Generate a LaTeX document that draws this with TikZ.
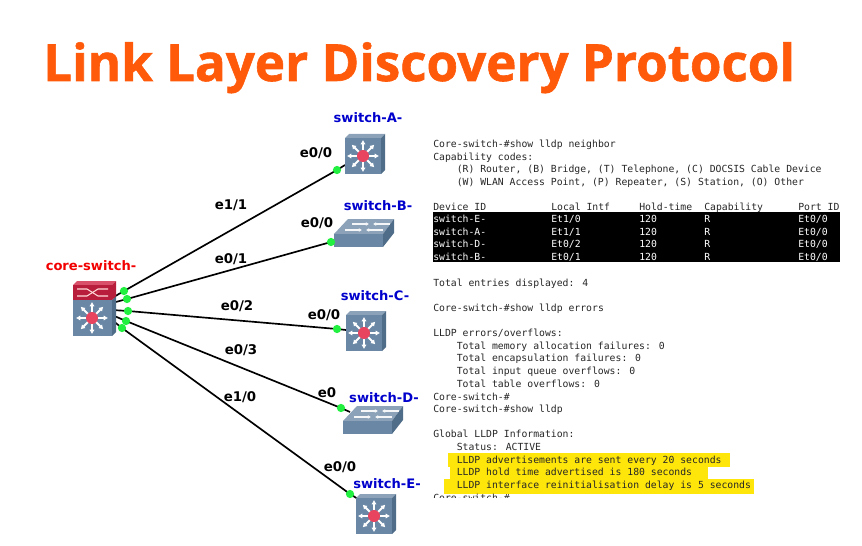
\documentclass[tikz,border=0pt]{standalone}
\usepackage{fontspec}
\usepackage{xcolor}
\usetikzlibrary{arrows.meta,backgrounds}
\setmainfont{DejaVu Sans}
\newfontfamily\titlefont[BoldFeatures={FakeBold=1.2}]{Open Sans}
\newfontfamily\clifont{DejaVu Sans Mono}
\definecolor{faceblue}{HTML}{6A88A6}
\definecolor{topblue}{HTML}{8CA2B8}
\definecolor{sideblue}{HTML}{4F6C88}
\definecolor{ballred}{HTML}{E84460}
\definecolor{boxred}{HTML}{B81E3C}
\definecolor{topred}{HTML}{D8506A}
\definecolor{titleorange}{HTML}{FF5A0A}
\definecolor{portgreen}{HTML}{22F040}
\definecolor{marker}{HTML}{FFE60A}
\tikzset{
  devname/.style={font=\fontsize{9.8pt}{12pt}\selectfont\bfseries, text=blue!80!black, inner sep=0pt},
  portlabel/.style={font=\fontsize{10pt}{12pt}\selectfont\bfseries, text=black, inner sep=0pt},
  cliline/.style={font=\fontsize{7.33pt}{9pt}\selectfont\clifont, text=black!85, anchor=base west, inner sep=0pt},
  port/.style={circle, fill=portgreen, inner sep=0pt, minimum size=6.2pt},
  link/.style={line width=1.25pt, black},
  star/.style={white, line width=1.5pt, -{Latex[length=3.2pt,width=4pt]}},
  smallstar/.style={white!90!topblue, line width=1.1pt, -{Latex[length=2.4pt,width=3pt]}},
  pics/mls/.style={code={
    \fill[topblue] (-18,-18) -- (-14,-22) -- (22,-22) -- (18,-18) -- cycle;
    \fill[sideblue] (18,-18) -- (22,-22) -- (22,14) -- (18,18) -- cycle;
    \fill[faceblue] (-18,-18) rectangle (18,18);
    \foreach \a in {0,45,...,315}
      \draw[star] (\a:5) -- (\a:16);
    \fill[ballred] (0,0) circle (6);
  }},
  pics/flatswitch/.style={code={
    \fill[topblue] (-30,1) -- (-16,-14) -- (30,-14) -- (19,1) -- cycle;
    \fill[sideblue] (19,1) -- (30,-14) -- (30,0) -- (19,14) -- cycle;
    \fill[faceblue] (-30,1) rectangle (19,14);
    \draw[smallstar] (-19,-3) -- (-2,-3);
    \draw[smallstar] (19,-3) -- (2,-3);
    \draw[smallstar] (-12,-9) -- (5,-9);
    \draw[smallstar] (26,-9) -- (9,-9);
  }},
  pics/corebox/.style={code={
    \fill[sideblue] (20,-18) -- (24,-22) -- (24,14) -- (20,18) -- cycle;
    \fill[faceblue] (-19,-18) rectangle (20,18);
    \foreach \a in {0,45,...,315}
      \draw[star] (\a:5) -- (\a:16);
    \fill[ballred] (0,0) circle (6);
    \fill[topred] (-19,-33) -- (-15,-37) -- (24,-37) -- (20,-33) -- cycle;
    \fill[boxred] (20,-33) -- (24,-37) -- (24,-22) -- (20,-18) -- cycle;
    \fill[boxred] (-19,-33) rectangle (20,-18);
    \draw[white!85!red, line width=0.8pt] (-15,-29) -- (-5,-29) -- (6,-22) -- (16,-22);
    \draw[white!85!red, line width=0.8pt] (-15,-22) -- (-5,-22) -- (6,-29) -- (16,-29);
  }},
}
\begin{document}
\begin{tikzpicture}[x=0.75pt,y=-0.75pt]
  \useasboundingbox (0,0) rectangle (862,545);
  \node[font=\fontsize{38.3pt}{44pt}\selectfont\titlefont\bfseries, text=titleorange, inner sep=0pt, anchor=base west] (title) at (43,81) {Link Layer Discovery Protocol};

  % ends of the links
  \coordinate (swA) at (345,165);
  \coordinate (swB) at (340,239);
  \coordinate (swC) at (346,330);
  \coordinate (swD) at (350,412);
  \coordinate (swE) at (358,499);
  \coordinate (coreA) at (112,298);
  \coordinate (coreB) at (112,303);
  \coordinate (coreC) at (112,310);
  \coordinate (coreD) at (112,315);
  \coordinate (coreE) at (112,320);

  % devices
  \pic at (363,156) {mls};
  \pic at (364,233) {flatswitch};
  \pic at (364,333) {mls};
  \pic at (373,420) {flatswitch};
  \pic at (374,516) {mls};
  \pic at (92,318) {corebox};

  % links and ports
  \foreach \s/\cx/\cy/\dx/\dy in {A/124/291/337/170, B/127/299/331/242, C/128/311/337/329, D/126/321/341/408, E/122/328/350/494} {
    \node[port] (p\s) at (\cx,\cy) {};
    \node[port] (q\s) at (\dx,\dy) {};
    \begin{scope}[on background layer]
      \draw[link] (core\s) -- (p\s.center) -- (q\s.center) -- (sw\s);
    \end{scope}
  }

  % names
  \node[devname] (nameA) at (368,118) {switch-A-};
  \node[devname] (nameB) at (378,206) {switch-B-};
  \node[devname] (nameC) at (375,296) {switch-C-};
  \node[devname] (nameD) at (384,398) {switch-D-};
  \node[devname] (nameE) at (387,484) {switch-E-};
  \node[devname, text=red!95!black] (nameCore) at (91,266) {core-switch-};

  \node[portlabel] (ifA) at (316,153) {e0/0};
  \node[portlabel] (ifB) at (317,223) {e0/0};
  \node[portlabel] (ifC) at (324,315) {e0/0};
  \node[portlabel] (ifD) at (327,393) {e0};
  \node[portlabel] (ifE) at (340,467) {e0/0};
  \node[portlabel] (lnkA) at (231,205) {e1/1};
  \node[portlabel] (lnkB) at (231,259) {e0/1};
  \node[portlabel] (lnkC) at (237,306) {e0/2};
  \node[portlabel] (lnkD) at (241,350) {e0/3};
  \node[portlabel] (lnkE) at (240,397) {e1/0};

  % console text
  \fill[black] (433,212) rectangle (840,262);
  \fill[marker] (448,453) rectangle (730,467);
  \fill[marker] (450,467) rectangle (708,480);
  \fill[marker] (444,479) rectangle (754,494);
  \foreach \x/\y/\txt in {433/147.5/{Core-switch-\#show lldp neighbor}, 433/160.5/{Capability codes:},
      456.5/172.5/{(R) Router, (B) Bridge, (T) Telephone, (C) DOCSIS Cable Device},
      456.5/185.5/{(W) WLAN Access Point, (P) Repeater, (S) Station, (O) Other},
      433/286.5/{Total entries displayed: 4}, 433/311.5/{Core-switch-\#show lldp errors},
      433/336.5/{LLDP errors/overflows:}, 456.5/349.5/{Total memory allocation failures: 0},
      456.5/361.5/{Total encapsulation failures: 0}, 456.5/374.5/{Total input queue overflows: 0},
      456.5/387.5/{Total table overflows: 0}, 433/400/{Core-switch-\#}, 433/412.5/{Core-switch-\#show lldp},
      433/437.5/{Global LLDP Information:}, 456.5/450.5/{Status: ACTIVE},
      456.5/463.5/{LLDP advertisements are sent every 20 seconds},
      456.5/475.5/{LLDP hold time advertised is 180 seconds},
      456.5/488.5/{LLDP interface reinitialisation delay is 5 seconds}}
    \node[cliline] (cli\y) at (\x,\y) {\txt};
  \begin{scope}
    \clip (430,490) rectangle (600,497.5);
    \node[cliline] (cliCut) at (433,501) {Core-switch-\#};
  \end{scope}

  % table
  \node[cliline] (hdA) at (433,210) {Device ID};
  \node[cliline] (hdB) at (551,210) {Local Intf};
  \node[cliline] (hdC) at (639,210) {Hold-time};
  \node[cliline] (hdD) at (704,210) {Capability};
  \node[cliline] (hdE) at (798,210) {Port ID};
  \foreach \y/\dev/\intf in {222/switch-E-/Et1\slash 0, 235/switch-A-/Et1\slash 1, 247.5/switch-D-/Et0\slash 2, 260/switch-B-/Et0\slash 1} {
    \node[cliline, text=white] (rowA\y) at (433,\y) {\dev};
    \node[cliline, text=white] (rowB\y) at (551,\y) {\intf};
    \node[cliline, text=white] (rowC\y) at (639,\y) {120};
    \node[cliline, text=white] (rowD\y) at (704,\y) {R};
    \node[cliline, text=white] (rowE\y) at (798,\y) {Et0/0};
  }
\end{tikzpicture}
\end{document}
